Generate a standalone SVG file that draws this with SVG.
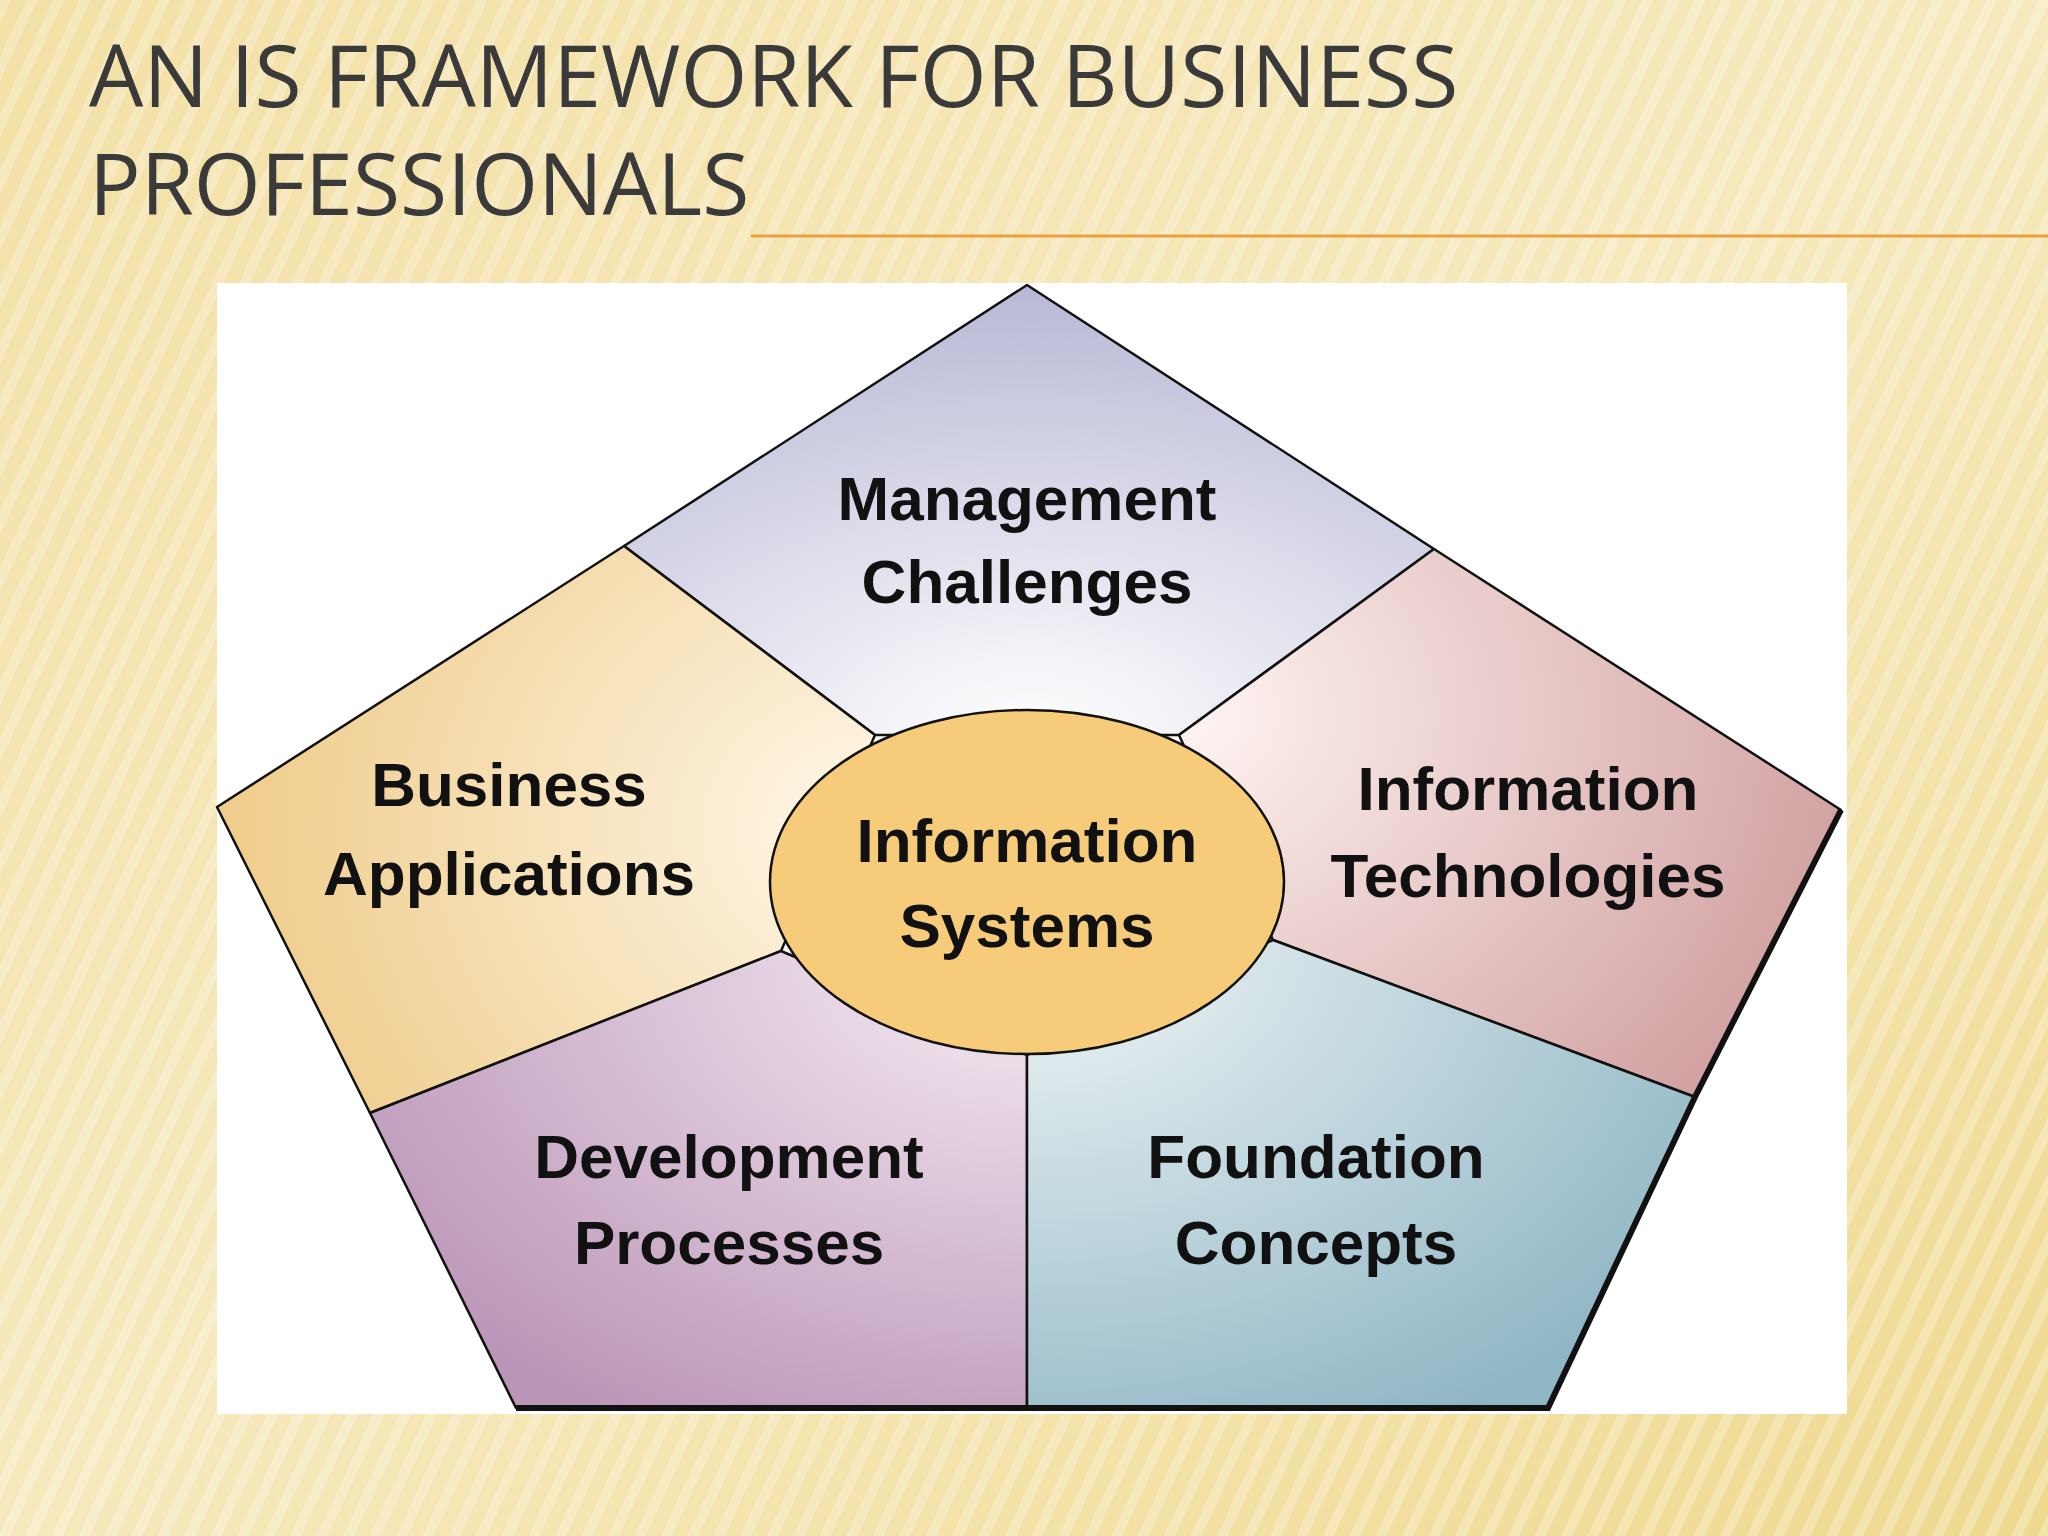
<svg xmlns="http://www.w3.org/2000/svg" width="2048" height="1536" viewBox="0 0 2048 1536">
<defs>
<linearGradient id="bg" x1="0" y1="0" x2="1" y2="1"><stop offset="0" stop-color="#f3e0a6"/><stop offset="0.5" stop-color="#f7e9bd"/><stop offset="1" stop-color="#efd990"/></linearGradient>
<pattern id="st" width="24" height="24" patternUnits="userSpaceOnUse" patternTransform="rotate(25)"><rect width="10" height="24" fill="#ffffff" opacity="0.25"/></pattern>
<radialGradient id="gt" cx="0.5" cy="1" r="1"><stop offset="0" stop-color="#ffffff"/><stop offset="1" stop-color="#b8b8d6"/></radialGradient>
<radialGradient id="gl" cx="1" cy="0.5" r="1"><stop offset="0" stop-color="#fff8ea"/><stop offset="1" stop-color="#efcc8a"/></radialGradient>
<radialGradient id="gr" cx="0" cy="0.3" r="1.1"><stop offset="0" stop-color="#fff5f3"/><stop offset="1" stop-color="#cf9c9c"/></radialGradient>
<radialGradient id="gbl" cx="1" cy="0" r="1.2"><stop offset="0" stop-color="#f7eef4"/><stop offset="1" stop-color="#bb95b8"/></radialGradient>
<radialGradient id="gbr" cx="0" cy="0" r="1.2"><stop offset="0" stop-color="#f3f7f8"/><stop offset="1" stop-color="#8fb6c4"/></radialGradient>
<style>
.t{font-family:"Liberation Sans",Arial,sans-serif;font-weight:bold;font-size:62px;fill:#111;text-anchor:middle}
.h{font-family:"Open Sans","Liberation Sans",sans-serif;font-size:86px;fill:#3a3a3a}
.e{stroke:#111;stroke-width:2.5;stroke-linejoin:round}
</style>
</defs>
<rect width="2048" height="1536" fill="url(#bg)"/>
<rect width="2048" height="1536" fill="url(#st)"/>
<g id="title"><text class="h" x="89" y="107">AN IS FRAMEWORK FOR BUSINESS</text><text class="h" x="89" y="215">PROFESSIONALS</text>
<line x1="751" y1="236" x2="2048" y2="236" stroke="#e8a040" stroke-width="3"/></g>
<rect x="217" y="283" width="1630" height="1131" fill="#fff"/>
<g id="management"><polygon class="e" points="1027,285 1434,549 1179,735 875,735 624,546" fill="url(#gt)"/><text class="t" x="1027" y="520">Management</text><text class="t" x="1027" y="603">Challenges</text></g>
<g id="business"><polygon class="e" points="624,546 875,735 781,951 370,1113 217,807" fill="url(#gl)"/><text class="t" x="509" y="806">Business</text><text class="t" x="509" y="895">Applications</text></g>
<g id="infotech"><polygon class="e" points="1434,549 1841,810 1695,1097 1273,940 1179,735" fill="url(#gr)"/><text class="t" x="1528" y="810">Information</text><text class="t" x="1528" y="897">Technologies</text></g>
<g id="development"><polygon class="e" points="370,1113 781,951 1027,1055 1027,1408 516,1408" fill="url(#gbl)"/><text class="t" x="729" y="1178">Development</text><text class="t" x="729" y="1264">Processes</text></g>
<g id="foundation"><polygon class="e" points="1027,1055 1273,940 1695,1097 1548,1408 1027,1408" fill="url(#gbr)"/><text class="t" x="1316" y="1178">Foundation</text><text class="t" x="1316" y="1264">Concepts</text></g>
<g id="edges"><polyline points="1841,810 1695,1097 1548,1408 516,1408" fill="none" stroke="#111" stroke-width="6"/></g>
<g id="is"><ellipse cx="1027" cy="882" rx="257" ry="172" fill="#f6cc7a" class="e"/><text class="t" x="1027" y="862">Information</text><text class="t" x="1027" y="947">Systems</text></g>
</svg>
